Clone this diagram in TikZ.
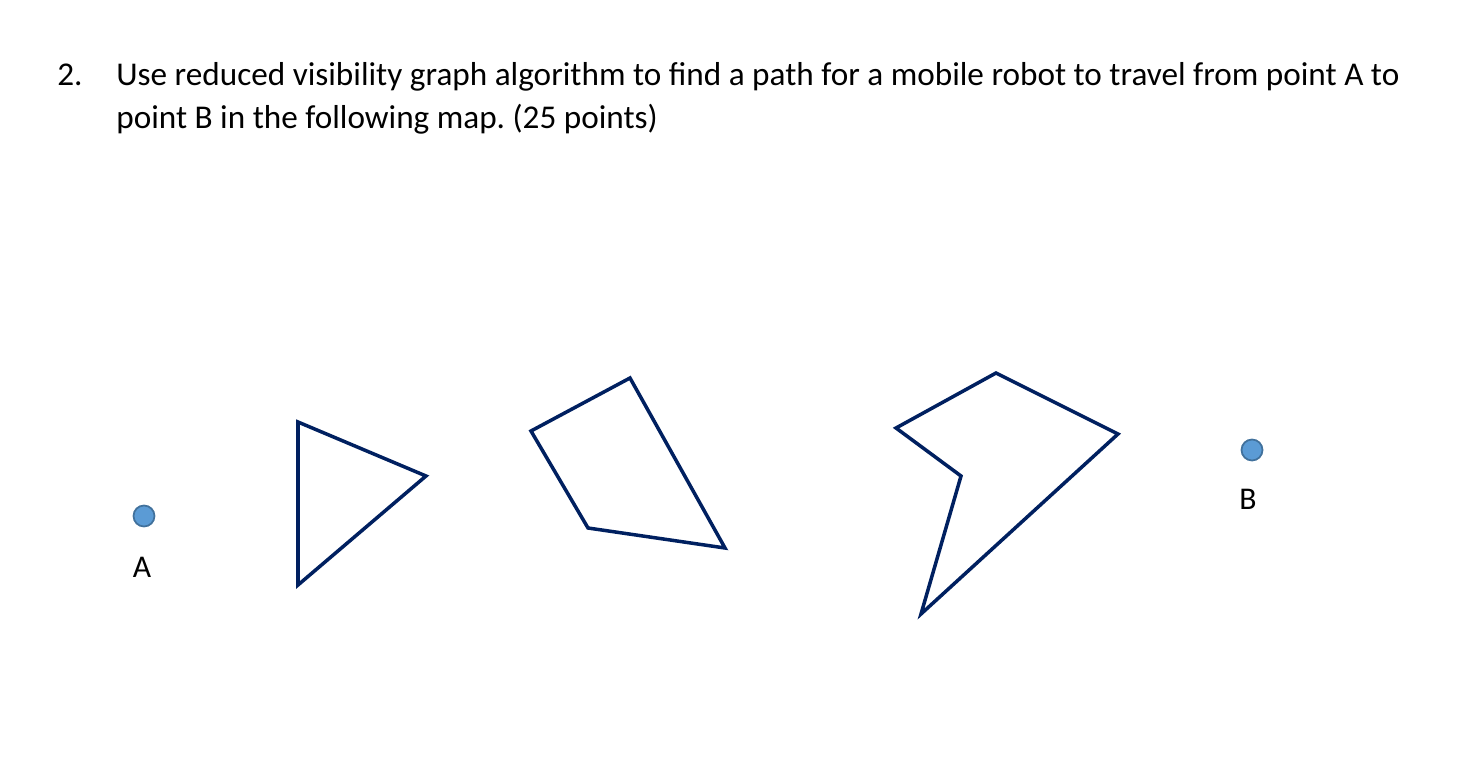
\documentclass[tikz,border=0pt]{standalone}
\usepackage{fontspec}
\setmainfont{Carlito}
\frenchspacing
\definecolor{obstacle}{RGB}{0,32,96}
\definecolor{dotfill}{RGB}{91,155,213}
\definecolor{dotline}{RGB}{65,113,156}
\tikzset{
  obst/.style={draw=obstacle,line width=2pt,line join=miter},
  waypt/.style={circle,fill=dotfill,draw=dotline,line width=1pt,minimum size=0.42cm,inner sep=0pt},
  ptlabel/.style={font=\fontsize{18}{21}\selectfont,anchor=base},
  task/.style={anchor=base west,inner sep=0pt,font=\fontsize{18.9}{23}\selectfont}
}
\begin{document}
\begin{tikzpicture}[x=0.2mm,y=-0.2mm]
\useasboundingbox (0,0) rectangle (1480,762);
%\draw[step=50,very thin,color=gray] (0,0) grid (1480,762);
\node[task] (num) at (57,86) {2.};
\node[task] (line1) at (116,86) {Use reduced visibility graph algorithm to find a path for a mobile robot to travel from point A to};
\node[task] (line2) at (116,129) {point B in the following map. (25 points)};
% start and goal
\node[waypt] (A) at (144,516) {};
\node[ptlabel] (labA) at (142,577) {A};
\node[waypt] (B) at (1252,450) {};
\node[ptlabel] (labB) at (1248,509) {B};
% obstacles
\draw[obst] (298,422) -- (426,476) -- (298,585) -- cycle;
\draw[obst] (630,378) -- (725,548) -- (588,528) -- (531,431) -- cycle;
\draw[obst] (996,373) -- (1118,434) -- (921,614) -- (961,476) -- (896,428) -- cycle;
\end{tikzpicture}
\end{document}
